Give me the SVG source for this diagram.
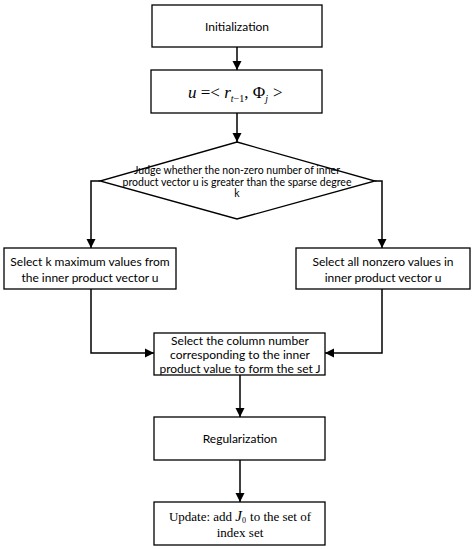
<svg xmlns="http://www.w3.org/2000/svg" width="474" height="549" viewBox="0 0 474 549">
<defs>
<marker id="ah" markerWidth="10" markerHeight="10" refX="9" refY="5" orient="auto" markerUnits="userSpaceOnUse">
<path d="M0,0.5 L9,5 L0,9.5 Z" fill="#000"/>
</marker>
<style>
.box{fill:#fff;stroke:#000;stroke-width:1.3}
.ln{fill:none;stroke:#000;stroke-width:1.5;marker-end:url(#ah)}
.t{font-family:Lato,"Liberation Sans",sans-serif;font-size:12px;fill:#000;text-anchor:middle}
.s{font-family:Lato,"Liberation Sans",sans-serif;font-size:10.5px;fill:#000;text-anchor:middle}
.m{font-family:"Liberation Serif","Times New Roman",serif;fill:#000}
</style>
</defs>
<rect width="474" height="549" fill="#fff"/>
<g id="connectors">
<line class="ln" x1="237" y1="47" x2="237" y2="70"/>
<line class="ln" x1="237" y1="113" x2="237" y2="142"/>
<polyline class="ln" points="100,181 91,181 91,248"/>
<polyline class="ln" points="375,181 382,181 382,248"/>
<polyline class="ln" points="91,289 91,353 154,353"/>
<polyline class="ln" points="382,289 382,353 325,353"/>
<line class="ln" x1="240" y1="375" x2="240" y2="417"/>
<line class="ln" x1="240" y1="460" x2="240" y2="502"/>
</g>
<g id="n1">
<rect class="box" x="152" y="5" width="170" height="42"/>
<text class="t" x="237" y="31">Initialization</text>
</g>
<g id="n2">
<rect class="box" x="151" y="70" width="171" height="43"/>
<text class="m" x="188" y="98" font-size="17"><tspan font-style="italic">u</tspan> =&lt; <tspan font-style="italic">r</tspan><tspan font-style="italic" font-size="10" dy="4">t</tspan><tspan font-size="10">−1</tspan><tspan dy="-4">, Φ</tspan><tspan font-style="italic" font-size="10" dy="4">j</tspan><tspan dy="-4" dx="5">&gt;</tspan></text>
</g>
<g id="n3">
<polygon class="box" points="237,142 375,181 237,219 100,181"/>
<text class="s" x="237" y="174">Judge whether the non-zero number of inner</text>
<text class="s" x="237" y="186">product vector u is greater than the sparse degree</text>
<text class="s" x="237" y="197">k</text>
</g>
<g id="n4">
<rect class="box" x="4" y="248" width="172" height="41"/>
<text class="t" x="90" y="266">Select k maximum values from</text>
<text class="t" x="90" y="282">the inner product vector u</text>
</g>
<g id="n5">
<rect class="box" x="296" y="248" width="174" height="41"/>
<text class="t" x="383" y="266">Select all nonzero values in</text>
<text class="t" x="383" y="282">inner product vector u</text>
</g>
<g id="n6">
<rect class="box" x="154" y="333" width="171" height="42"/>
<text class="t" x="240" y="345">Select the column number</text>
<text class="t" x="240" y="359">corresponding to the inner</text>
<text class="t" x="240" y="373">product value to form the set J</text>
</g>
<g id="n7">
<rect class="box" x="154" y="417" width="171" height="43"/>
<text class="t" x="240" y="443">Regularization</text>
</g>
<g id="n8">
<rect class="box" x="154" y="502" width="171" height="43"/>
<text class="m" x="240" y="521" font-size="13" text-anchor="middle">Update: add <tspan font-style="italic" font-size="15">J</tspan><tspan font-size="8" dy="2">0</tspan><tspan dy="-2" dx="4">to the set of</tspan></text>
<text class="m" x="240" y="537" font-size="13" text-anchor="middle">index set</text>
</g>
</svg>
